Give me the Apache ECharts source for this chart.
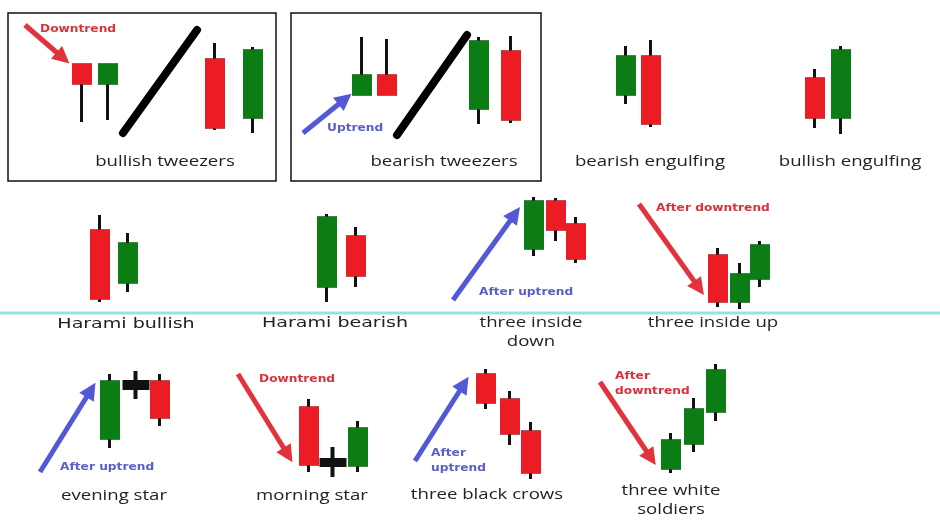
<!DOCTYPE html>
<html>
<head>
<meta charset="utf-8">
<script src="https://cdn.jsdelivr.net/npm/echarts@6/dist/echarts.min.js"></script>
<style>
  html, body { margin: 0; padding: 0; background: #fff; }
  #chart { width: 940px; height: 529px; }
</style>
</head>
<body>
<div id="chart"></div>
<script>
// candles: [slot, open, close, low, high]  (slot = position inside the panel)
const bullishTweezers = [[72, 75, 57, 18, 75], [98, 57, 75, 20, 75], [205, 80, 13, 10, 97], [243, 23, 89, 7, 93]];
const bearishTweezers = [[70, 46, 64, 46, 103], [95, 64, 46, 46, 101], [187, 32, 98, 16, 103], [219, 88, 21, 17, 104]];
const bearishEngulfing = [[66, 46, 83, 36, 94], [91, 83, 17, 13, 100]];
const bullishEngulfing = [[55, 61, 23, 12, 71], [81, 23, 89, 6, 94]];
const haramiBullish = [[80, 84, 17, 13, 100], [108, 33, 71, 23, 82]];
const haramiBearish = [[87, 29, 97, 13, 101], [116, 78, 40, 28, 88]];
const threeInsideDown = [[89, 67, 113, 59, 118], [111, 113, 86, 74, 117], [131, 90, 57, 52, 98]];
const threeInsideUp = [[88, 59, 14, 8, 67], [110, 14, 40, 6, 52], [130, 37, 69, 28, 74]];
const eveningStar = [[90, 42, 98, 32, 106], [140, 98, 63, 54, 106]];
const morningStar = [[89, 72, 16, 8, 81], [138, 15, 51, 8, 59]];
const threeBlackCrows = [[81, 105, 78, 71, 111], [105, 80, 47, 35, 89], [126, 48, 8, 1, 58]];
const threeWhiteSoldiers = [[81, 12, 39, 7, 47], [104, 37, 70, 28, 82], [126, 69, 109, 59, 116]];

// doji candles
const eveningDoji = [[116, 92, 98, 81, 109]];
const morningDoji = [[113, 15, 20, 3, 33]];

// trend arrows [[x1, y1], [x2, y2]]  (end = centre of the arrow head)
const downtrendArrow1 = [[15, 115], [53, 82]];
const uptrendArrow1 = [[11, 7], [53, 41]];
const uptrendArrow2 = [[8, 15], [70, 101]];
const downtrendArrow2 = [[9, 111], [69, 27]];
const uptrendArrow3 = [[20, 8], [71, 90]];
const downtrendArrow3 = [[18, 106], [68, 25]];
const uptrendArrow4 = [[10, 19], [59, 96]];
const downtrendArrow4 = [[10, 98], [61, 22]];

// separators in tweezers panels
const slash1 = [[113, 7], [187, 110]];
const slash2 = [[105, 5], [175, 105]];

const patternNames = [
  'bullish tweezers', 'bearish tweezers', 'bearish engulfing', 'bullish engulfing',
  'Harami bullish', 'Harami bearish', 'three inside\ndown', 'three inside up',
  'evening star', 'morning star', 'three black crows', 'three white\nsoldiers'
];

const green = '#0c7c14';
const red = '#ec1c24';
const arrowRed = '#e2323c';
const arrowBlue = '#5258d6';

// panel layout
const panels = [
  { candles: bullishTweezers, left: 10, top: 20, width: 260, height: 120, slash: slash1, arrow: downtrendArrow1, arrowColor: arrowRed, label: [165, 162] },
  { candles: bearishTweezers, left: 292, top: 20, width: 250, height: 120, slash: slash2, arrow: uptrendArrow1, arrowColor: arrowBlue, label: [444, 162] },
  { candles: bearishEngulfing, left: 560, top: 20, width: 180, height: 120, label: [650, 162] },
  { candles: bullishEngulfing, left: 760, top: 20, width: 175, height: 120, label: [850, 162] },
  { candles: haramiBullish, left: 20, top: 190, width: 200, height: 125, label: [126, 324], font: 'DejaVu Sans' },
  { candles: haramiBearish, left: 240, top: 190, width: 200, height: 125, label: [335, 323], font: 'DejaVu Sans' },
  { candles: threeInsideDown, left: 445, top: 190, width: 170, height: 125, arrow: uptrendArrow2, arrowColor: arrowBlue, label: [531, 332] },
  { candles: threeInsideUp, left: 630, top: 190, width: 170, height: 125, arrow: downtrendArrow2, arrowColor: arrowRed, label: [713, 323] },
  { candles: eveningStar, doji: eveningDoji, left: 20, top: 360, width: 180, height: 120, arrow: uptrendArrow3, arrowColor: arrowBlue, label: [114, 496] },
  { candles: morningStar, doji: morningDoji, left: 220, top: 360, width: 180, height: 120, arrow: downtrendArrow3, arrowColor: arrowRed, label: [312, 496] },
  { candles: threeBlackCrows, left: 405, top: 360, width: 160, height: 120, arrow: uptrendArrow4, arrowColor: arrowBlue, label: [487, 495] },
  { candles: threeWhiteSoldiers, left: 590, top: 360, width: 160, height: 120, arrow: downtrendArrow4, arrowColor: arrowRed, label: [671, 500] }
];

// small trend captions
const notes = [
  { text: 'Downtrend', x: 40, y: 29, color: '#d8323c' },
  { text: 'Uptrend', x: 327, y: 128, color: '#5a5ec8' },
  { text: 'After uptrend', x: 479, y: 292, color: '#5a5ec8' },
  { text: 'After downtrend', x: 656, y: 208, color: '#d8323c' },
  { text: 'After uptrend', x: 60, y: 467, color: '#5a5ec8' },
  { text: 'Downtrend', x: 259, y: 379, color: '#d8323c' },
  { text: 'After\nuptrend', x: 431, y: 461, color: '#5a5ec8' },
  { text: 'After\ndowntrend', x: 615, y: 384, color: '#d8323c' }
];

const chart = echarts.init(document.getElementById('chart'));

const grid = [], xAxis = [], yAxis = [], series = [];

panels.forEach((p, i) => {
  grid.push({ left: p.left, top: p.top, width: p.width, height: p.height });
  xAxis.push({ type: 'value', gridIndex: i, min: 0, max: p.width, show: false });
  yAxis.push({ type: 'value', gridIndex: i, min: 0, max: p.height, show: false });

  // wicks (black), bodies drawn on top
  series.push({
    type: 'candlestick', xAxisIndex: i, yAxisIndex: i, silent: true,
    encode: { x: 0, y: [1, 2, 3, 4] },
    barWidth: 17,
    data: p.candles,
    itemStyle: { color: 'rgba(0,0,0,0)', color0: 'rgba(0,0,0,0)', borderColor: '#111', borderColor0: '#111', borderWidth: 3 }
  });
  series.push({
    type: 'candlestick', xAxisIndex: i, yAxisIndex: i, silent: true,
    encode: { x: 0, y: [1, 2, 3, 4] },
    barWidth: 17,
    data: p.candles.map(c => [c[0], c[1], c[2], Math.min(c[1], c[2]), Math.max(c[1], c[2])]),
    itemStyle: { color: green, color0: red, borderColor: green, borderColor0: red, borderWidth: 3 }
  });
  if (p.doji) {
    series.push({
      type: 'candlestick', xAxisIndex: i, yAxisIndex: i, silent: true,
      encode: { x: 0, y: [1, 2, 3, 4] },
      barWidth: 23,
      data: p.doji,
      itemStyle: { color: '#111', color0: '#111', borderColor: '#111', borderColor0: '#111', borderWidth: 4 }
    });
  }
  if (p.arrow) {
    series.push({
      type: 'lines', coordinateSystem: 'cartesian2d', xAxisIndex: i, yAxisIndex: i, silent: true,
      symbol: ['none', 'triangle'], symbolSize: 17,
      lineStyle: { color: p.arrowColor, width: 5, opacity: 1, curveness: 0 },
      data: [{ coords: p.arrow }]
    });
  }
  if (p.slash) {
    series.push({
      type: 'lines', coordinateSystem: 'cartesian2d', xAxisIndex: i, yAxisIndex: i, silent: true,
      symbol: 'none',
      lineStyle: { color: '#000', width: 8, opacity: 1, curveness: 0, cap: 'round' },
      data: [{ coords: p.slash }]
    });
  }
});

const graphic = [
  { type: 'rect', shape: { x: 8, y: 13, width: 268, height: 168 }, style: { fill: null, stroke: '#111', lineWidth: 1.5 } },
  { type: 'rect', shape: { x: 291, y: 13, width: 250, height: 168 }, style: { fill: null, stroke: '#111', lineWidth: 1.5 } },
  { type: 'line', shape: { x1: 0, y1: 313, x2: 940, y2: 313 }, style: { stroke: '#93e4db', lineWidth: 3 } }
];

// the source picture is stretched sideways, so the texts are too
panels.forEach((p, i) => {
  graphic.push({
    type: 'text', x: p.label[0], y: p.label[1], z: 10, scaleX: p.font ? 1.36 : 1.24,
    style: {
      text: patternNames[i], fill: '#222', textAlign: 'center', textVerticalAlign: 'middle',
      fontSize: p.font ? 14 : 15, fontFamily: p.font || 'Open Sans', lineHeight: 19
    }
  });
});

notes.forEach(n => {
  graphic.push({
    type: 'text', x: n.x, y: n.y, z: 10, scaleX: 1.11,
    style: {
      text: n.text, fill: n.color, textAlign: 'left', textVerticalAlign: 'middle',
      fontSize: 11, fontWeight: 'bold', fontFamily: 'DejaVu Sans', lineHeight: 15
    }
  });
});

chart.setOption({
  animation: false,
  backgroundColor: '#fff',
  grid, xAxis, yAxis, series, graphic
});
</script>
</body>
</html>
